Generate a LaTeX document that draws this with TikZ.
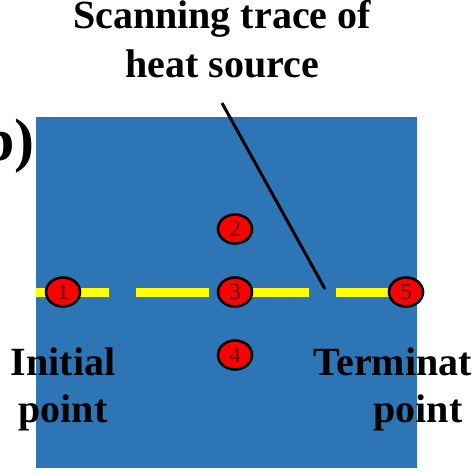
\documentclass[tikz,border=0pt]{standalone}
\usepackage{fontspec}
\setmainfont{Liberation Serif}
\usetikzlibrary{shapes.geometric}
\definecolor{plate}{HTML}{2E75B6}
\definecolor{trace}{HTML}{FFFF00}
\definecolor{numcol}{HTML}{5A0A0A}
\tikzset{
  pt/.style={ellipse, draw=black, line width=2.6pt, fill=red, minimum width=34pt, minimum height=29pt, inner sep=0pt,
     font=\fontsize{23}{23}\selectfont, text=numcol},
  lab/.style={font=\bfseries\fontsize{40}{40}\selectfont, inner sep=0pt, text=black}
}
\begin{document}
\begin{tikzpicture}[x=1pt,y=-1pt]
\useasboundingbox (0,0) rectangle (474,474);
\fill[plate] (36,117) rectangle (417,468);
\draw[trace, line width=9pt, dash pattern=on 73pt off 27pt] (36,292) -- (409,292);
\coordinate (tip) at (325,289);
\coordinate (tail) at (222,103);
\draw[black, line width=3pt] (tail) -- (tip);
\node[pt] (n1) at (63,292) {1};
\node[pt] (n2) at (235,229) {2};
\node[pt] (n3) at (235,292) {3};
\node[pt] (n4) at (235,355) {4};
\node[pt] (n5) at (406,292) {5};
\node[lab, anchor=base] (t1) at (222,28) {Scanning trace of};
\node[lab, anchor=base] (t2) at (222,77) {heat source};
\node[lab, anchor=base] (i1) at (63,375) {Initial};
\node[lab, anchor=base] (i2) at (63,422) {point};
\node[lab, anchor=base west] (e1) at (313,375) {Terminat};
\node[lab, anchor=base] (e2) at (418,422) {point};
\node[font=\bfseries\fontsize{60}{60}\selectfont, inner sep=0pt, anchor=base east] (b) at (35,160) {b)};
\end{tikzpicture}
\end{document}
